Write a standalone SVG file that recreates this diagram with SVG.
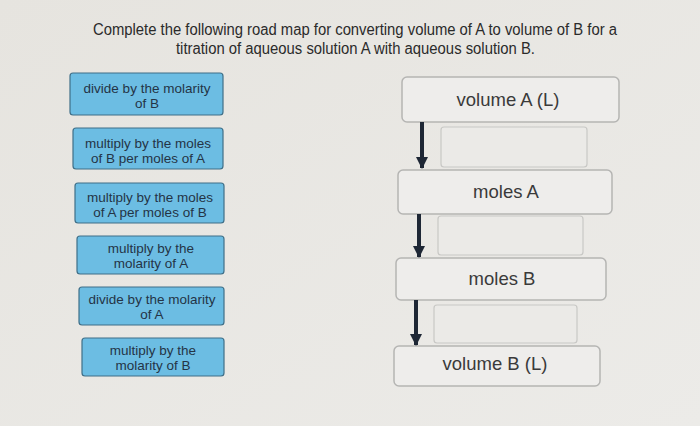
<svg xmlns="http://www.w3.org/2000/svg" width="700" height="426" viewBox="0 0 700 426">
<defs>
<linearGradient id="bg" x1="0" y1="0" x2="1" y2="1">
<stop offset="0" stop-color="#e6e4df"/>
<stop offset="1" stop-color="#ecebe8"/>
</linearGradient>
<marker id="ah" markerWidth="12" markerHeight="12" refX="11" refY="6" orient="auto" markerUnits="userSpaceOnUse" viewBox="0 0 12 12">
<path d="M0,0 L12,6 L0,12 Z" fill="#1e2735"/>
</marker>
</defs>
<style>
.title{font-family:"Liberation Sans",Arial,sans-serif;font-size:16px;fill:#2b2b2b}
.opt rect{fill:#6cbde3;stroke:#3f6f88;stroke-width:1.2}
.opt text{font-family:"Liberation Sans",Arial,sans-serif;font-size:13.5px;fill:#243446;text-anchor:middle}
.step rect{fill:#eeedeb;stroke:#b5b5b3;stroke-width:1.5}
.step text{font-family:"Liberation Sans",Arial,sans-serif;font-size:18.5px;fill:#3a3a3a;text-anchor:middle}
.blank rect{fill:#ebeae7;stroke:#c8c8c5;stroke-width:1.2}
.conn line{stroke:#1e2735;stroke-width:4;marker-end:url(#ah)}
</style>
<rect width="700" height="426" fill="url(#bg)"/>
<g id="title">
<text class="title" x="93" y="35" textLength="524" lengthAdjust="spacingAndGlyphs">Complete the following road map for converting volume of A to volume of B for a</text>
<text class="title" x="176" y="54" textLength="359" lengthAdjust="spacingAndGlyphs">titration of aqueous solution A with aqueous solution B.</text>
</g>
<g id="opt1" class="opt"><rect x="70" y="73" width="153" height="42" rx="3"/><text x="147" y="93">divide by the molarity</text><text x="147" y="108">of B</text></g>
<g id="opt2" class="opt"><rect x="73" y="128" width="150" height="41" rx="3"/><text x="148" y="148">multiply by the moles</text><text x="148" y="163">of B per moles of A</text></g>
<g id="opt3" class="opt"><rect x="75" y="183" width="149" height="40" rx="3"/><text x="150" y="202">multiply by the moles</text><text x="150" y="217">of A per moles of B</text></g>
<g id="opt4" class="opt"><rect x="77" y="236" width="147" height="38" rx="3"/><text x="151" y="253">multiply by the</text><text x="151" y="268">molarity of A</text></g>
<g id="opt5" class="opt"><rect x="79" y="287" width="145" height="38" rx="3"/><text x="152" y="304">divide by the molarity</text><text x="152" y="319">of A</text></g>
<g id="opt6" class="opt"><rect x="82" y="338" width="142" height="38" rx="3"/><text x="153" y="355">multiply by the</text><text x="153" y="370">molarity of B</text></g>
<g id="volA" class="step"><rect x="402" y="77" width="217" height="45" rx="5"/><text x="508" y="106">volume A (L)</text></g>
<g id="blank1" class="blank"><rect x="441" y="127" width="146" height="40" rx="3"/></g>
<g id="molA" class="step"><rect x="398" y="170" width="214" height="44" rx="5"/><text x="506" y="198">moles A</text></g>
<g id="blank2" class="blank"><rect x="438" y="216" width="145" height="39" rx="3"/></g>
<g id="molB" class="step"><rect x="396" y="258" width="210" height="42" rx="5"/><text x="502" y="285">moles B</text></g>
<g id="blank3" class="blank"><rect x="434" y="305" width="143" height="38" rx="3"/></g>
<g id="volB" class="step"><rect x="394" y="346" width="206" height="40" rx="5"/><text x="495" y="370">volume B (L)</text></g>
<g id="connectors" class="conn">
<line x1="422" y1="122" x2="422" y2="168"/>
<line x1="419" y1="214" x2="419" y2="257"/>
<line x1="416" y1="300" x2="416" y2="345"/>
</g>
</svg>
